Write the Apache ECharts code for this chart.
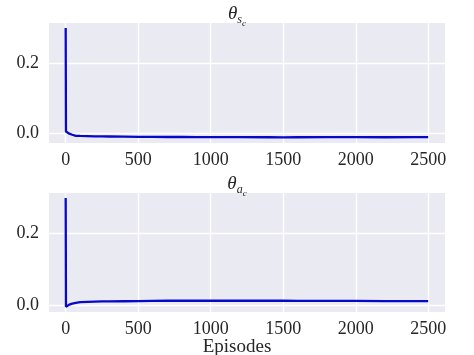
<!DOCTYPE html>
<html><head><meta charset="utf-8">
<script src="https://cdn.jsdelivr.net/npm/echarts@6/dist/echarts.min.js"></script>
<style>html,body{margin:0;padding:0;background:#fff}#c{width:474px;height:355px}</style>
</head><body><div id="c"></div>
<script>
// Data
const episodes = [0, 2, 10, 25, 45, 70, 100, 150, 200, 250, 300, 400, 500, 600, 700, 800, 900, 1000, 1200, 1400, 1500, 1600, 1800, 2000, 2200, 2400, 2499];
const thetaS   = [0.300, 0.004, 0.002, -0.002, -0.005, -0.008, -0.0085, -0.009, -0.0095, -0.0098, -0.010, -0.0105, -0.011, -0.011, -0.0115, -0.0115, -0.012, -0.012, -0.012, -0.0122, -0.0125, -0.0122, -0.012, -0.012, -0.0122, -0.012, -0.012];
const thetaA   = [0.300, -0.005, -0.003, 0.001, 0.004, 0.006, 0.008, 0.009, 0.0095, 0.010, 0.010, 0.0105, 0.011, 0.0115, 0.012, 0.012, 0.012, 0.012, 0.012, 0.012, 0.012, 0.0115, 0.0115, 0.0115, 0.011, 0.011, 0.011];
const xTicks = [0, 500, 1000, 1500, 2000, 2500];
const yTicks = [0.0, 0.2];
const titles = [['s', 'c'], ['a', 'c']];

const font = 'Liberation Serif, DejaVu Serif, serif';
const chart = echarts.init(document.getElementById('c'), null, {renderer: 'canvas'});

function pairs(vals) { return episodes.map((e, i) => [e, vals[i]]); }

const grids = [
  {left: 49, right: 29, top: 23, height: 120, backgroundColor: '#EAEAF2', show: true, borderWidth: 0},
  {left: 49, right: 29, top: 193, height: 119, backgroundColor: '#EAEAF2', show: true, borderWidth: 0}
];
const yRanges = [[-0.0286, 0.314], [-0.0196, 0.314]];

function makeTitle(sub, subsub, top) {
  return {
    text: '{t|θ}{s|' + sub + '}{c|' + subsub + '}',
    left: 'center', top: top,
    textStyle: {
      fontWeight: 'normal',
      rich: {
        t: {fontFamily: font, fontStyle: 'italic', fontWeight: 'normal', fontSize: 19, color: '#262626', lineHeight: 20, verticalAlign: 'bottom'},
        s: {fontFamily: font, fontStyle: 'italic', fontWeight: 'normal', fontSize: 12, color: '#262626', verticalAlign: 'bottom', padding: [0, 0, -3, 0]},
        c: {fontFamily: font, fontStyle: 'italic', fontWeight: 'normal', fontSize: 9, color: '#262626', verticalAlign: 'bottom', padding: [0, 0, -5, 0]}
      }
    }
  };
}

const option = {
  animation: false,
  backgroundColor: '#ffffff',
  title: [makeTitle(titles[0][0], titles[0][1], -2), makeTitle(titles[1][0], titles[1][1], 168),
    {text: 'Episodes', left: 'center', top: 333, textStyle: {fontFamily: font, fontSize: 19, fontWeight: 'normal', color: '#262626'}}],
  grid: grids,
  xAxis: [0, 1].map(i => ({
    type: 'value', gridIndex: i, min: -115, max: 2615,
    axisLine: {show: false}, axisTick: {show: false},
    splitLine: {show: false},
    axisLabel: {
      fontFamily: font, fontSize: 18, color: '#262626', margin: 8,
      customValues: xTicks,
      formatter: v => String(Math.round(v))
    }
  })),
  yAxis: [0, 1].map(i => ({
    type: 'value', gridIndex: i, min: yRanges[i][0], max: yRanges[i][1],
    axisLine: {show: false}, axisTick: {show: false},
    splitLine: {show: false},
    axisLabel: {
      fontFamily: font, fontSize: 18, color: '#262626', margin: 10,
      customValues: yTicks,
      formatter: v => v.toFixed(1)
    }
  })),
  series: [
    ...[0, 1].map(i => ({
      type: 'line', xAxisIndex: i, yAxisIndex: i, data: [], silent: true,
      markLine: {
        silent: true, symbol: 'none', label: {show: false}, animation: false,
        lineStyle: {color: '#ffffff', width: 1.3, type: 'solid'},
        data: xTicks.map(t => ({xAxis: t})).concat(yTicks.map(t => ({yAxis: t})))
      }
    })),
    {type: 'line', xAxisIndex: 0, yAxisIndex: 0, data: pairs(thetaS), showSymbol: false, z: 5,
      lineStyle: {color: '#0808c8', width: 2.3}},
    {type: 'line', xAxisIndex: 1, yAxisIndex: 1, data: pairs(thetaA), showSymbol: false, z: 5,
      lineStyle: {color: '#0808c8', width: 2.3}}
  ]
};
chart.setOption(option);
</script></body></html>
